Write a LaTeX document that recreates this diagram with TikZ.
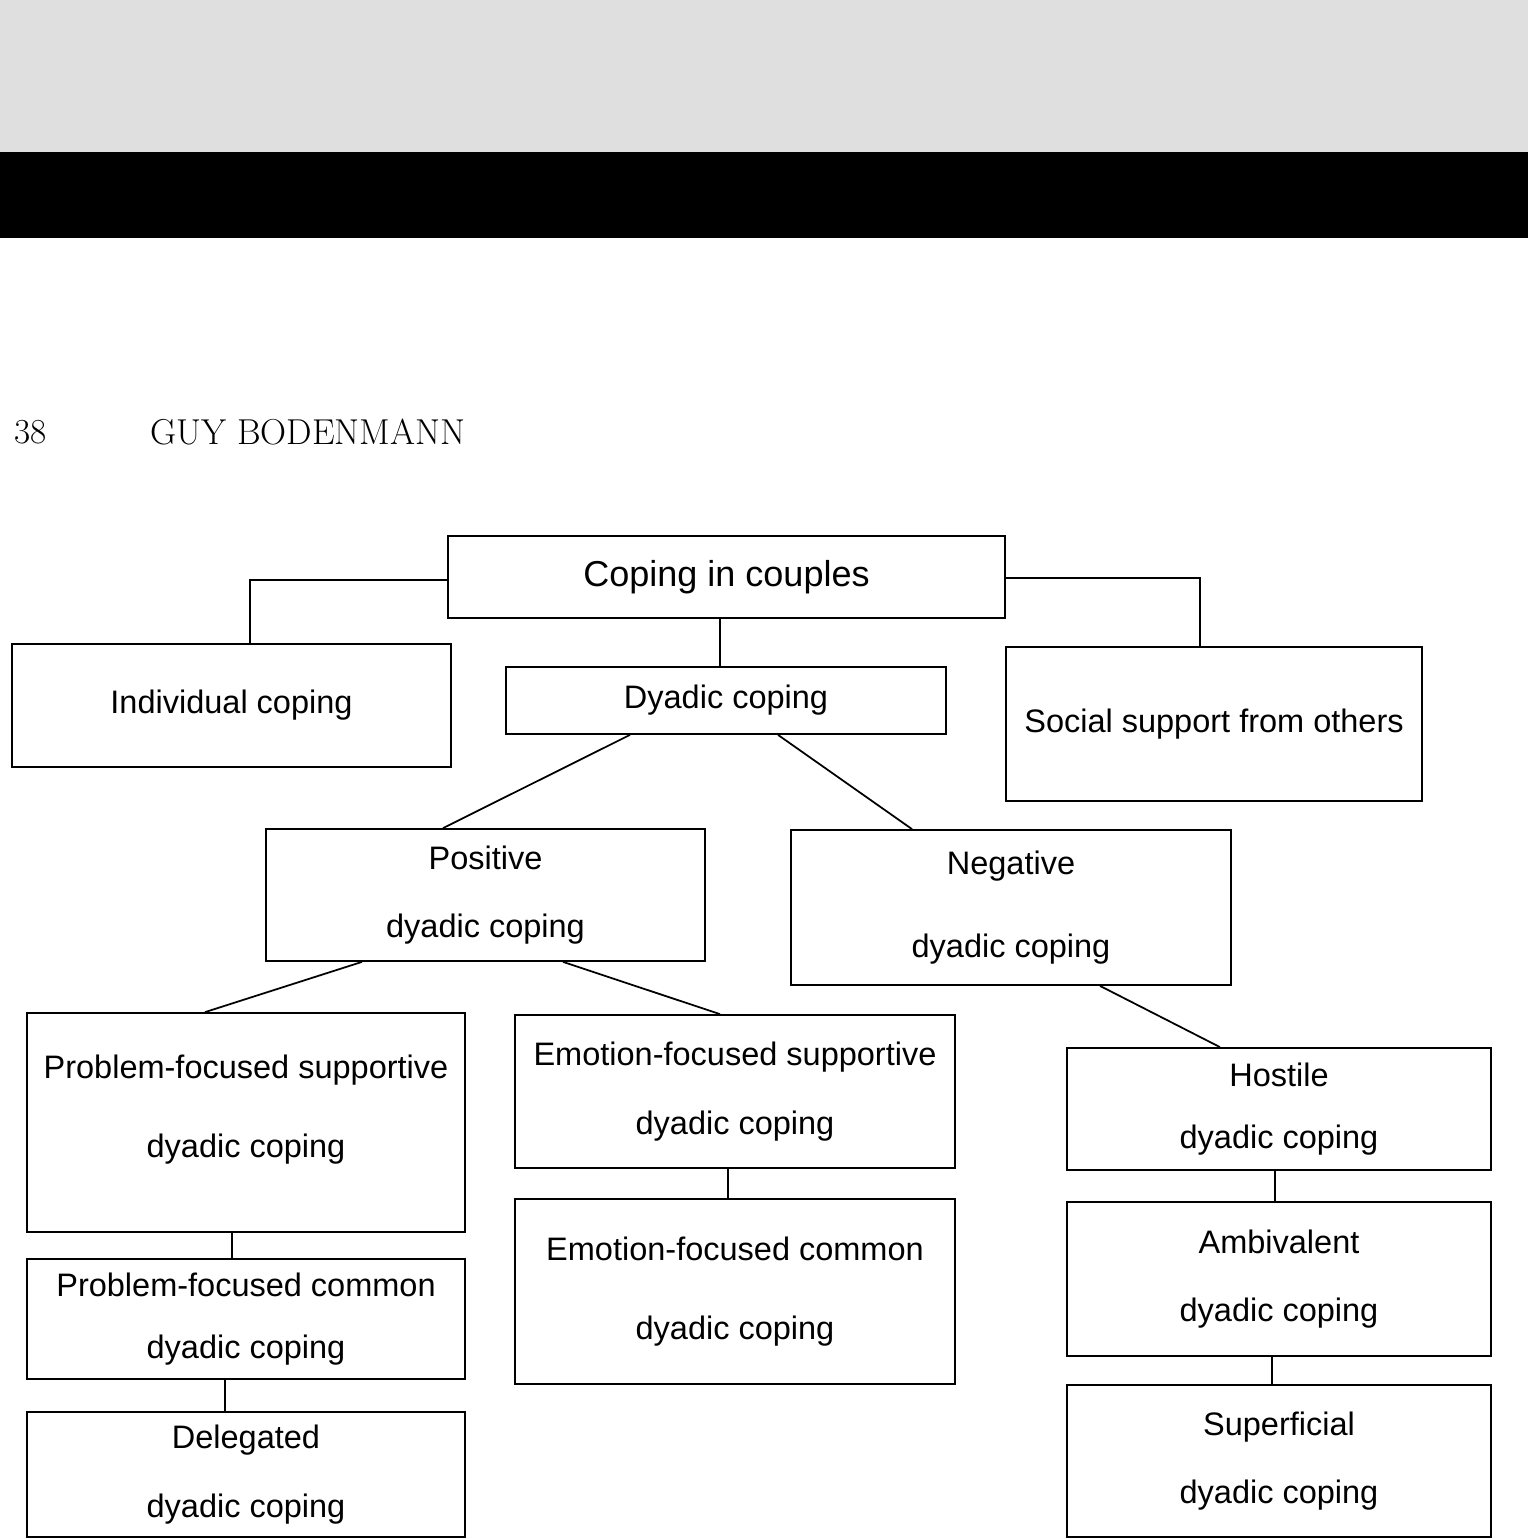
\documentclass[tikz,border=0pt]{standalone}
\usepackage{fontspec}
\setmainfont{Liberation Sans}
\newfontfamily\serifhd{Latin Modern Roman}
\begin{document}
\begin{tikzpicture}[x=0.02cm,y=-0.02cm,
  box/.style={draw,line width=1pt,inner sep=0pt,align=center,font=\fontsize{18.5}{21}\selectfont},
  conn/.style={line width=1pt}]
\useasboundingbox (0,0) rectangle (1528,1539);
\fill[gray!25] (0,0) rectangle (1528,152);
\fill[black] (0,152) rectangle (1528,238);
\node[anchor=west,font=\serifhd\fontsize{20}{24}\selectfont] (pg) at (8,432) {38};
\node[anchor=west,font=\serifhd\fontsize{20.5}{24}\selectfont] (hd) at (144,432) {GUY BODENMANN};
\newcommand{\bx}[6]{\node[box,minimum width={(#4-#2)*0.02cm},minimum height={(#5-#3)*0.02cm}] (#1) at ({(#2+#4)/2},{(#3+#5)/2}) {#6};}
\bx{cc}{448}{536}{1005}{618}{\fontsize{20.5}{24}\selectfont Coping in couples}
\bx{ind}{12}{644}{451}{767}{Individual coping}
\bx{dy}{506}{667}{946}{734}{Dyadic coping}
\bx{soc}{1006}{647}{1422}{801}{Social support from others}
\bx{pos}{266}{829}{705}{961}{Positive\\[18pt]dyadic coping}
\bx{neg}{791}{830}{1231}{985}{Negative\\[26pt]dyadic coping}
\bx{pfs}{27}{1013}{465}{1232}{Problem-focused supportive\\[24pt]dyadic coping\\[-2pt]}
\bx{efs}{515}{1015}{955}{1168}{Emotion-focused supportive\\[18pt]dyadic coping}
\bx{hos}{1067}{1048}{1491}{1170}{Hostile\\[14pt]dyadic coping}
\bx{pfc}{27}{1259}{465}{1379}{Problem-focused common\\[14pt]dyadic coping}
\bx{efc}{515}{1199}{955}{1384}{Emotion-focused common\\[24pt]dyadic coping}
\bx{amb}{1067}{1202}{1491}{1356}{Ambivalent\\[18pt]dyadic coping}
\bx{del}{27}{1412}{465}{1537}{Delegated\\[18pt]dyadic coping}
\bx{sup}{1067}{1385}{1491}{1537}{Superficial\\[18pt]dyadic coping}
\draw[conn] (cc.west|-0,580) -| (ind.north-|250,0);
\draw[conn] (cc.east|-0,578) -| (soc.north-|1200,0);
\draw[conn] (cc.south-|720,0) -- (dy.north-|720,0);
\draw[conn] (dy.south-|630,0) -- (pos.north-|443,0);
\draw[conn] (dy.south-|778,0) -- (neg.north-|912,0);
\draw[conn] (pos.south-|362,0) -- (pfs.north-|205,0);
\draw[conn] (pos.south-|563,0) -- (efs.north-|720,0);
\draw[conn] (neg.south-|1100,0) -- (hos.north-|1220,0);
\draw[conn] (pfs.south-|232,0) -- (pfc.north-|232,0);
\draw[conn] (pfc.south-|225,0) -- (del.north-|225,0);
\draw[conn] (efs.south-|728,0) -- (efc.north-|728,0);
\draw[conn] (hos.south-|1275,0) -- (amb.north-|1275,0);
\draw[conn] (amb.south-|1272,0) -- (sup.north-|1272,0);
\end{tikzpicture}
\end{document}
